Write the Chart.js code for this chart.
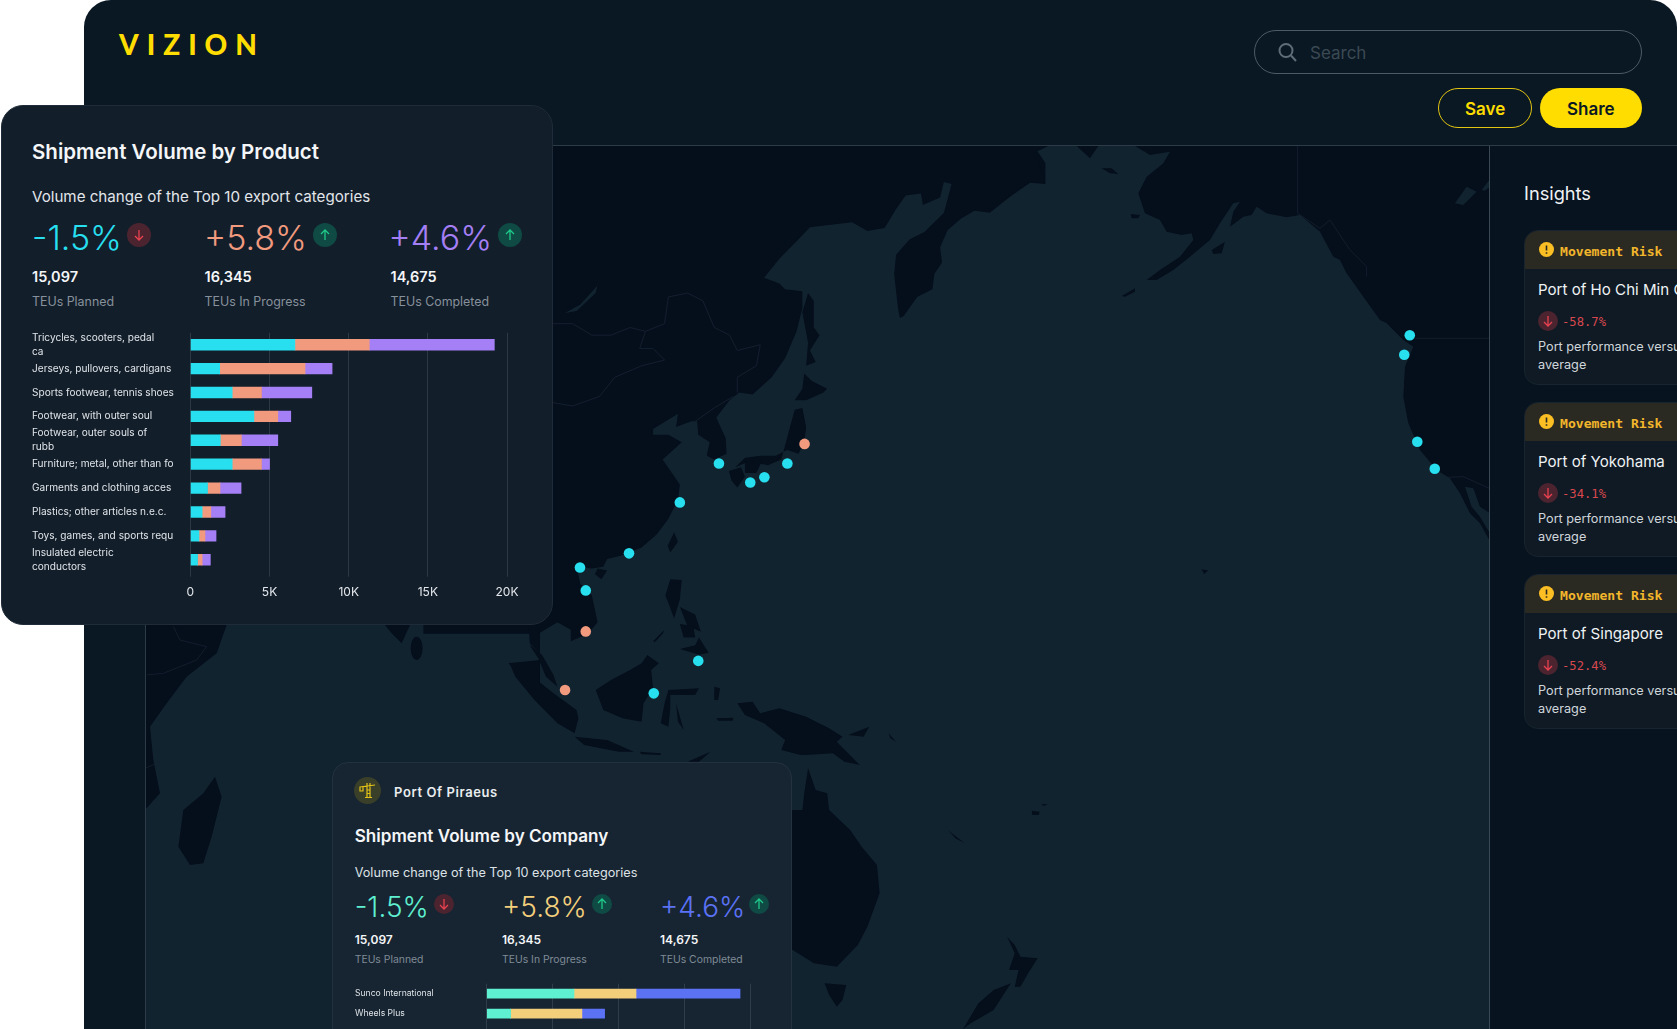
<!DOCTYPE html>
<html>
<head>
<meta charset="utf-8">
<title>Vizion</title>
<script src="https://cdn.jsdelivr.net/npm/chart.js@4"></script>
<style>
  html, body { margin: 0; padding: 0; width: 1677px; height: 1029px; overflow: hidden; background: #fff; }
  body { position: relative; font-family: 'Inter', sans-serif; color: #fff; }
  .box { position: absolute; box-sizing: border-box; }
  .t { position: absolute; white-space: nowrap; line-height: 1; transform: translateY(-50%); }
  canvas { position: absolute; display: block; }
  #main { left: 84px; top: 0; width: 1593px; height: 1060px; background: #0a1824; border-radius: 27px 27px 0 0; overflow: hidden; }
  #sea { left: 146px; top: 146px; width: 1344px; height: 883px; background: #122330; }
  #land { position: absolute; left: 0; top: 0; }
  #land .l { fill: #050e1b; }
  #land .s { fill: #122330; }
  #land .b { fill: none; stroke: #142130; stroke-width: 2.5; }
  #hline { left: 84px; top: 145px; width: 1593px; height: 1px; background: #2c3b47; }
  #vline1 { left: 145px; top: 146px; width: 1px; height: 883px; background: #2c3b47; }
  #vline2 { left: 1489px; top: 146px; width: 1px; height: 883px; background: #3a4954; }
  #side { left: 1490px; top: 146px; width: 187px; height: 883px; background: #07131f; }
  #card1 { left: 1px; top: 105px; width: 552px; height: 520px; background: #131e2b; border: 1px solid #1f2b38; border-radius: 22px; }
  #card2 { left: 332px; top: 762px; width: 460px; height: 300px; background: #172532; border: 1px solid #243240; border-radius: 16px; }
  .insight { left: 1524px; width: 190px; height: 155px; background: #0f1a24; border: 1px solid #18242e; border-radius: 14px; overflow: hidden; }
  .insight .head { position: absolute; left: 0; top: 0; right: 0; height: 38px; background: #2a2a22; }
</style>
</head>
<body>
<div class="box" id="main"></div>
<div class="box" id="sea"></div>
<svg id="land" width="1677" height="1029" viewBox="0 0 1677 1029">
  <clipPath id="mapclip"><rect x="146" y="146" width="1344" height="883"/></clipPath>
  <g clip-path="url(#mapclip)">
    <g transform="translate(500,140) scale(0.3827)">
      <polygon class="l" points="-200,15 1395,15 1425,60 1425,115 1385,112 1330,150 1280,190 1240,185 1205,205 1170,235 1150,280 1155,320 1135,350 1130,390 1090,410 1055,460 1045,465 1040,440 1030,350 1035,300 1070,260 1110,240 1160,190 1180,115 1160,110 1150,150 1105,170 1100,140 1060,145 1035,180 1005,230 960,238 920,215 810,228 770,270 730,310 690,360 730,375 745,390 790,395 790,440 775,500 745,570 710,620 660,665 625,660 600,680 565,725 590,780 592,820 560,835 540,825 548,790 518,770 515,735 500,735 460,750 465,715 400,755 400,770 440,770 475,790 425,835 470,900 465,940 440,990 410,1030 370,1065 320,1085 280,1095 270,1115 240,1120 200,1115 210,1160 240,1190 255,1260 230,1290 185,1310 185,1280 150,1260 100,1290 -200,1290"/>
      <polygon class="s" points="265,335 255,380 210,430 170,452 200,447 250,400"/>
      <path class="b" d="M100,480 L190,480 240,510 290,510 340,490 380,500 430,480 440,410 490,400 530,420 560,490 600,510 620,550 680,535 670,590 620,620 620,660 M100,680 L190,695 260,670 300,620 370,590 430,575 400,545 365,545 380,500 M510,735 L560,700 610,670"/>
      <polygon class="l" points="770,705 790,700 800,750 795,790 780,820 750,810 720,825 680,825 640,830 615,855 650,840 700,850 735,835"/>
      <polygon class="l" points="640,840 685,838 670,870 640,870"/>
      <polygon class="l" points="598,865 630,855 640,880 620,908 605,890"/>
      <polygon class="l" points="795,610 815,630 855,650 845,660 800,680 770,680 790,650"/>
      <polygon class="l" points="805,400 820,420 820,490 835,510 810,550 825,580 800,590 805,530 790,450"/>
      <polygon class="l" points="455,1025 465,1050 445,1078 438,1060"/>
      <polygon class="l" points="255,1120 280,1125 265,1148 248,1135"/>
      <polygon class="l" points="445,1148 475,1150 470,1200 455,1250 440,1210 432,1190"/>
      <polygon class="l" points="470,1220 510,1240 525,1285 490,1270"/>
      <polygon class="l" points="470,1265 505,1270 510,1300 480,1300"/>
      <polygon class="l" points="520,1300 545,1340 520,1345 470,1330 510,1320"/>
      <polygon class="l" points="400,1310 430,1280 425,1290 405,1312"/>
    </g>
    <g transform="translate(500,620) scale(0.3827,0.3333)">
      <polygon class="l" points="75,45 80,75 110,105 140,165 150,200 120,170 100,115 80,80"/>
      <polygon class="l" points="25,130 80,165 140,220 200,270 205,295 195,340 150,310 90,240 40,170"/>
      <polygon class="l" points="385,105 415,130 395,150 400,205 375,250 370,305 320,295 270,270 250,210 290,180 340,150 370,130"/>
      <polygon class="l" points="440,210 520,205 510,225 445,225 445,265 440,320 420,310 430,250"/>
      <polygon class="l" points="460,250 480,330 465,305"/>
      <polygon class="l" points="195,350 280,360 350,395 310,395 220,375"/>
      <polygon class="l" points="365,395 420,400 420,405 370,403"/>
      <polygon class="l" points="490,425 550,395 520,425"/>
      <polygon class="l" points="620,250 660,245 680,280 730,265 800,290 860,325 895,350 880,365 940,435 900,425 870,400 800,405 785,405 735,390 745,360 690,310 640,285"/>
      <polygon class="l" points="560,200 575,205 570,240 560,240"/>
      <polygon class="l" points="565,295 610,293 608,302 570,302"/>
      <polygon class="l" points="910,345 965,320 950,350"/>
      <polygon class="l" points="1015,340 1035,365 1020,355"/>
      <polygon class="l" points="1172,632 1215,670 1190,655"/>
      <polygon class="l" points="1390,572 1410,575 1408,585 1390,585"/>
      <polygon class="l" points="1415,553 1432,552 1420,558"/>
      <polygon class="l" points="805,445 825,510 855,520 860,570 915,630 945,680 985,735 992,820 960,920 935,975 880,1040 820,1030 765,990 500,990 500,575 790,570 795,520"/>
      <polygon class="l" points="848,1090 905,1095 895,1140 880,1160 860,1125"/>
      <polygon class="l" points="1325,950 1345,975 1360,1010 1405,1015 1380,1060 1360,1100 1345,1100 1355,1050 1330,1050 1345,1000"/>
      <polygon class="l" points="1335,1090 1290,1170 1230,1210 1210,1227 1250,1150 1290,1110"/>
    </g>
    <g transform="translate(140,620) scale(0.3333)">
      <polygon class="l" points="15,15 260,15 230,100 140,170 80,250 30,320 40,420 60,520 15,570"/>
      <polygon class="l" points="225,470 245,530 215,650 190,730 150,735 115,680 130,570 190,520"/>
      <polygon class="l" points="735,15 810,15 785,70 755,40"/>
      <ellipse class="l" cx="830" cy="85" rx="18" ry="35"/>
      <polygon class="l" points="1105,130 1150,170 1200,240 1200,120"/>
      <polygon class="l" points="1165,15 1200,15 1200,100 1170,70"/>
      <path class="b" d="M100,20 L120,60 200,80 170,120 70,160 20,165 M15,445 L60,425"/>
    </g>
    <g transform="translate(1000,140) scale(0.3333)">
      <polygon class="l" points="0,185 50,150 95,125 135,130 125,90 100,40 145,18 0,18"/>
      <polygon class="l" points="230,18 295,18 270,55"/>
      <polygon class="l" points="305,85 335,85 355,102 330,100"/>
      <polygon class="l" points="392,222 420,225 415,235 395,235"/>
      <polygon class="l" points="635,330 675,305 665,340 640,342"/>
      <polygon class="l" points="365,468 405,445 405,455 375,470"/>
      <polygon class="l" points="605,1288 625,1292 612,1302"/>
      <polygon class="l" points="405,18 450,45 510,35 490,70 440,110 415,160 435,220 480,240 500,275 545,285 575,280 580,300 540,350 480,390 440,420 470,420 520,390 570,350 630,300 660,250 700,190 720,185 700,215 690,260 730,230 755,225 770,200 800,220 860,232 900,225 960,275 1000,350 1020,360 1040,400 1090,470 1140,540 1160,550 1210,600 1240,620 1215,680 1210,770 1225,850 1260,930 1310,990 1350,1015 1380,1060 1410,1120 1440,1150 1468,1200 1475,1200 1475,18"/>
      <polygon class="s" points="1395,1040 1420,1045 1440,1100 1470,1120 1470,1180 1440,1130 1415,1100"/>
      <polygon class="s" points="1365,190 1400,140 1430,155 1390,195"/>
      <polygon class="s" points="1445,150 1470,118 1470,140 1455,152"/>
      <path class="b" d="M893,18 L893,220 960,265 990,240 1050,330 1100,380 1100,410 M1240,595 L1468,595 M1345,1012 L1390,1010 1468,1045"/>
    </g>
  </g>
</svg>
<canvas id="portMap" width="1344" height="883" style="left:146px;top:146px;width:1344px;height:883px"></canvas>
<div class="box" id="hline"></div>
<div class="box" id="vline1"></div>
<div class="box" id="side"></div>
<div class="box" id="vline2"></div>
<div id="header"></div>
<div id="insights"></div>
<div class="box" id="card2"></div>
<div class="box" id="card1"></div>
<div id="cardText"></div>
<canvas id="productChart" width="520" height="290" style="left:32px;top:326px;width:520px;height:290px"></canvas>
<canvas id="companyChart" width="430" height="60" style="left:354.7px;top:978px;width:430px;height:60px"></canvas>

<script>
const productCategories = [
  ['Tricycles, scooters, pedal', 'ca'],
  'Jerseys, pullovers, cardigans',
  'Sports footwear, tennis shoes',
  'Footwear, with outer soul',
  ['Footwear, outer souls of', 'rubb'],
  'Furniture; metal, other than fo',
  'Garments and clothing acces',
  'Plastics; other articles n.e.c.',
  'Toys, games, and sports requ',
  ['Insulated electric', 'conductors']
];
const productPlanned = [6600, 1850, 2640, 4010, 1890, 2640, 1080, 740, 540, 450];
const productInProgress = [4700, 5390, 1850, 1510, 1330, 1850, 790, 550, 380, 290];
const productCompleted = [7900, 1710, 3180, 820, 2300, 510, 1330, 900, 700, 520];
const productTicks = ['0', '5K', '10K', '15K', '20K'];

const companyCategories = ['Sunco International', 'Wheels Plus'];
const companyPlanned = [6620, 1820];
const companyInProgress = [4700, 5400];
const companyCompleted = [7880, 1720];

// port positions, percent across and down the map
const normalPortX = [42.63, 44.96, 46.01, 47.72, 39.72, 35.94, 32.29, 32.72, 41.09, 37.78, 94.03, 93.62, 94.59, 95.89];
const normalPortY = [35.95, 38.11, 37.51, 35.95, 40.36, 46.13, 47.73, 50.33, 58.31, 61.99, 21.44, 23.64, 33.49, 36.55];
const riskPortX = [49.0, 32.72, 31.18];
const riskPortY = [33.74, 54.97, 61.61];

const insightPorts = ['Port of Ho Chi Min City', 'Port of Yokohama', 'Port of Singapore'];
const insightChanges = ['-58.7%', '-34.1%', '-52.4%'];

const statChanges = ['-1.5%', '+5.8%', '+4.6%'];
const statValues = ['15,097', '16,345', '14,675'];
const statLabels = ['TEUs Planned', 'TEUs In Progress', 'TEUs Completed'];

function text(str, x, y, style) {
  return `<div class="t" style="left:${x}px;top:${y}px;${style}">${str}</div>`;
}

function badge(x, y, r, up) {
  const bg = up ? '#0f4a44' : '#4c2430';
  const fg = up ? '#1fc888' : '#e8414f';
  const d = up ? 'M0,5 L0,-5 M-4,-1 L0,-5 L4,-1' : 'M0,-5 L0,5 M-4,1 L0,5 L4,1';
  return `<svg style="position:absolute;left:${x - r}px;top:${y - r}px" width="${2 * r}" height="${2 * r}" viewBox="${-r} ${-r} ${2 * r} ${2 * r}">
    <circle r="${r}" fill="${bg}"/><path d="${d}" fill="none" stroke="${fg}" stroke-width="1.3"/></svg>`;
}

document.getElementById('header').innerHTML = `
  ${text('VIZION', 119, 44, 'font:900 28px Lato;letter-spacing:8px;color:#ffdd00')}
  <div class="box" style="left:1254px;top:30px;width:388px;height:44px;border:1.5px solid #4c5b67;border-radius:22px"></div>
  <svg style="position:absolute;left:1276px;top:41px" width="22" height="22" viewBox="0 0 22 22" fill="none" stroke="#5f6d78" stroke-width="2">
    <circle cx="10" cy="9.5" r="6.5"/><path d="M15,14.5 L20,20"/></svg>
  ${text('Search', 1310, 53, 'font:400 17px Inter;color:#3b4953')}
  <div class="box" style="left:1438px;top:88px;width:94px;height:40px;border:1.5px solid #e2c511;border-radius:20px"></div>
  ${text('Save', 1465, 109, 'font:600 17px Inter;color:#fddc00')}
  <div class="box" style="left:1540px;top:88px;width:102px;height:40px;background:#ffdd00;border-radius:20px"></div>
  ${text('Share', 1567, 109, 'font:600 17px Inter;color:#0a1824')}
  ${text('Insights', 1524, 193, 'font:400 18.2px Inter;color:#eef2f4')}
`;

let insightHtml = '';
insightPorts.forEach((port, i) => {
  const top = 230 + i * 172;
  insightHtml += `
    <div class="box insight" style="top:${top}px"><div class="head"></div></div>
    <svg style="position:absolute;left:${1538.5}px;top:${top + 12}px" width="15" height="15" viewBox="0 0 15 15">
      <circle cx="7.5" cy="7.5" r="7.5" fill="#fbbf24"/><path d="M7.5,3.5 L7.5,8.5 M7.5,10.2 L7.5,11.8" stroke="#2a2a22" stroke-width="1.6"/></svg>
    ${text('Movement Risk', 1560, top + 21, 'font:700 13.1px DejaVu Sans Mono;color:#f2b62c')}
    ${text(port, 1538, top + 58.5, 'font:400 15.1px Inter;color:#eef2f4')}
    ${badge(1547.7, top + 91, 10, false)}
    ${text(insightChanges[i], 1562, top + 92, 'font:400 12.2px DejaVu Sans Mono;color:#d9484f')}
    ${text('Port performance versus', 1538, top + 115.5, 'font:400 12.7px Inter;color:#cfd6db')}
    ${text('average', 1538, top + 133.5, 'font:400 12.7px Inter;color:#cfd6db')}
  `;
});
document.getElementById('insights').innerHTML = insightHtml;

const productColors = ['#27dfee', '#f19a7e', '#a47ff5'];
const companyColors = ['#5ef0d0', '#f3cf7c', '#5b72f5'];
const statX1 = [32, 204.5, 390.5];
const changeX1 = [32, 204, 388.5];
const statX2 = [354.7, 502, 660];
const badge1X = [139, 325, 510];
const badge2X = [444, 601.7, 759];
let cardHtml = `
  ${text('Shipment Volume by Product', 32, 151, 'font:600 20.5px Inter;color:#f4f6f8')}
  ${text('Volume change of the Top 10 export categories', 32, 196, 'font:400 15.15px Inter;color:#e2e6ea')}
  <div class="box" style="left:354px;top:777px;width:27px;height:27px;border-radius:50%;background:#3a3f2a"></div>
  <svg style="position:absolute;left:359px;top:782px" width="17" height="17" viewBox="0 0 17 17" fill="none" stroke="#e3c218" stroke-width="1.2">
    <path d="M0.5,5 L16,3 M8,1 L8,15 M11,1 L11,15 M6,15.5 L13,15.5 M8,8 L11,8 M8,11.5 L11,11.5 M1,5 L1,9 L4,9 L4,5"/></svg>
  ${text('Port Of Piraeus', 394, 792, 'font:600 13px Inter;letter-spacing:.6px;color:#e9edf0')}
  ${text('Shipment Volume by Company', 354.7, 835, 'font:600 17.1px Inter;color:#f4f6f8')}
  ${text('Volume change of the Top 10 export categories', 354.7, 871.5, 'font:400 12.66px Inter;color:#dde2e7')}
`;
statChanges.forEach((change, i) => {
  const up = change[0] === '+';
  cardHtml += `
    ${text(change, changeX1[i], 237, `font:300 34px Inter;color:${productColors[i]}`)}
    ${badge(badge1X[i], 235, 12, up)}
    ${text(statValues[i], statX1[i], 275.5, 'font:600 14.5px Inter;color:#f4f6f8')}
    ${text(statLabels[i], statX1[i], 301, 'font:400 12.4px Inter;color:#87919b')}
    ${text(change, statX2[i], 907, `font:300 28px Inter;color:${companyColors[i]}`)}
    ${badge(badge2X[i], 904, 10, up)}
    ${text(statValues[i], statX2[i], 939, 'font:600 12px Inter;color:#f4f6f8')}
    ${text(statLabels[i], statX2[i], 959, 'font:400 10.4px Inter;color:#7f8b96')}
  `;
});
document.getElementById('cardText').innerHTML = cardHtml;

function stackedSets(colors, planned, inProgress, completed, thickness) {
  return [planned, inProgress, completed].map((data, i) => ({
    data,
    backgroundColor: colors[i],
    barThickness: thickness,
    borderWidth: 0
  }));
}

new Chart(document.getElementById('productChart'), {
  type: 'bar',
  data: {
    labels: productCategories,
    datasets: stackedSets(productColors, productPlanned, productInProgress, productCompleted, 10.7)
  },
  options: {
    indexAxis: 'y',
    responsive: false,
    animation: false,
    layout: { padding: { top: 6.75, right: 45, bottom: 0, left: 0 } },
    plugins: { legend: { display: false }, tooltip: { enabled: false } },
    scales: {
      x: {
        stacked: true,
        min: 0,
        max: 20000,
        afterBuildTicks: s => { s.ticks = productTicks.map((_, i) => ({ value: i * 5000 })); },
        grid: { color: '#2c3844', lineWidth: 1, tickLength: 5, tickColor: '#2c3844' },
        border: { display: false },
        ticks: {
          color: '#e4e8ec',
          font: { family: 'Inter', size: 12 },
          padding: 8,
          maxRotation: 0,
          callback: (v, i) => productTicks[i]
        },
        afterFit: s => { s.height = 44.3; }
      },
      y: {
        stacked: true,
        grid: { display: false },
        border: { display: false },
        ticks: {
          autoSkip: false,
          crossAlign: 'far',
          color: '#dfe4e8',
          font: { family: 'Inter', size: 10.1, lineHeight: 1.36 }
        },
        afterFit: s => { s.width = 158.4; s.paddingTop = 0; s.paddingBottom = 0; }
      }
    }
  }
});

new Chart(document.getElementById('companyChart'), {
  type: 'bar',
  data: {
    labels: companyCategories,
    datasets: stackedSets(companyColors, companyPlanned, companyInProgress, companyCompleted, 9)
  },
  options: {
    indexAxis: 'y',
    responsive: false,
    animation: false,
    layout: { padding: { top: 5.7, right: 34.4, bottom: 0, left: 0 } },
    plugins: { legend: { display: false }, tooltip: { enabled: false } },
    scales: {
      x: {
        stacked: true,
        min: 0,
        max: 20000,
        grid: { color: '#2f3c49', lineWidth: 1, tickLength: 10, tickColor: '#2f3c49' },
        border: { display: false },
        ticks: { display: false, stepSize: 5000 },
        afterFit: s => { s.height = 14.3; }
      },
      y: {
        stacked: true,
        grid: { display: false },
        border: { display: false },
        ticks: {
          autoSkip: false,
          crossAlign: 'far',
          color: '#dfe4e8',
          font: { family: 'Inter', size: 8.6 }
        },
        afterFit: s => { s.width = 131.6; s.paddingTop = 0; s.paddingBottom = 0; }
      }
    }
  }
});

new Chart(document.getElementById('portMap'), {
  type: 'scatter',
  data: {
    datasets: [
      { data: normalPortX.map((x, i) => ({ x, y: normalPortY[i] })), backgroundColor: '#27dfee', pointRadius: 5.3, borderWidth: 0 },
      { data: riskPortX.map((x, i) => ({ x, y: riskPortY[i] })), backgroundColor: '#f19a7e', pointRadius: 5.3, borderWidth: 0 }
    ]
  },
  options: {
    responsive: false,
    animation: false,
    layout: { padding: 0, autoPadding: false },
    plugins: { legend: { display: false }, tooltip: { enabled: false } },
    scales: {
      x: { display: false, min: 0, max: 100 },
      y: { display: false, min: 0, max: 100, reverse: true }
    }
  }
});
</script>
</body>
</html>
